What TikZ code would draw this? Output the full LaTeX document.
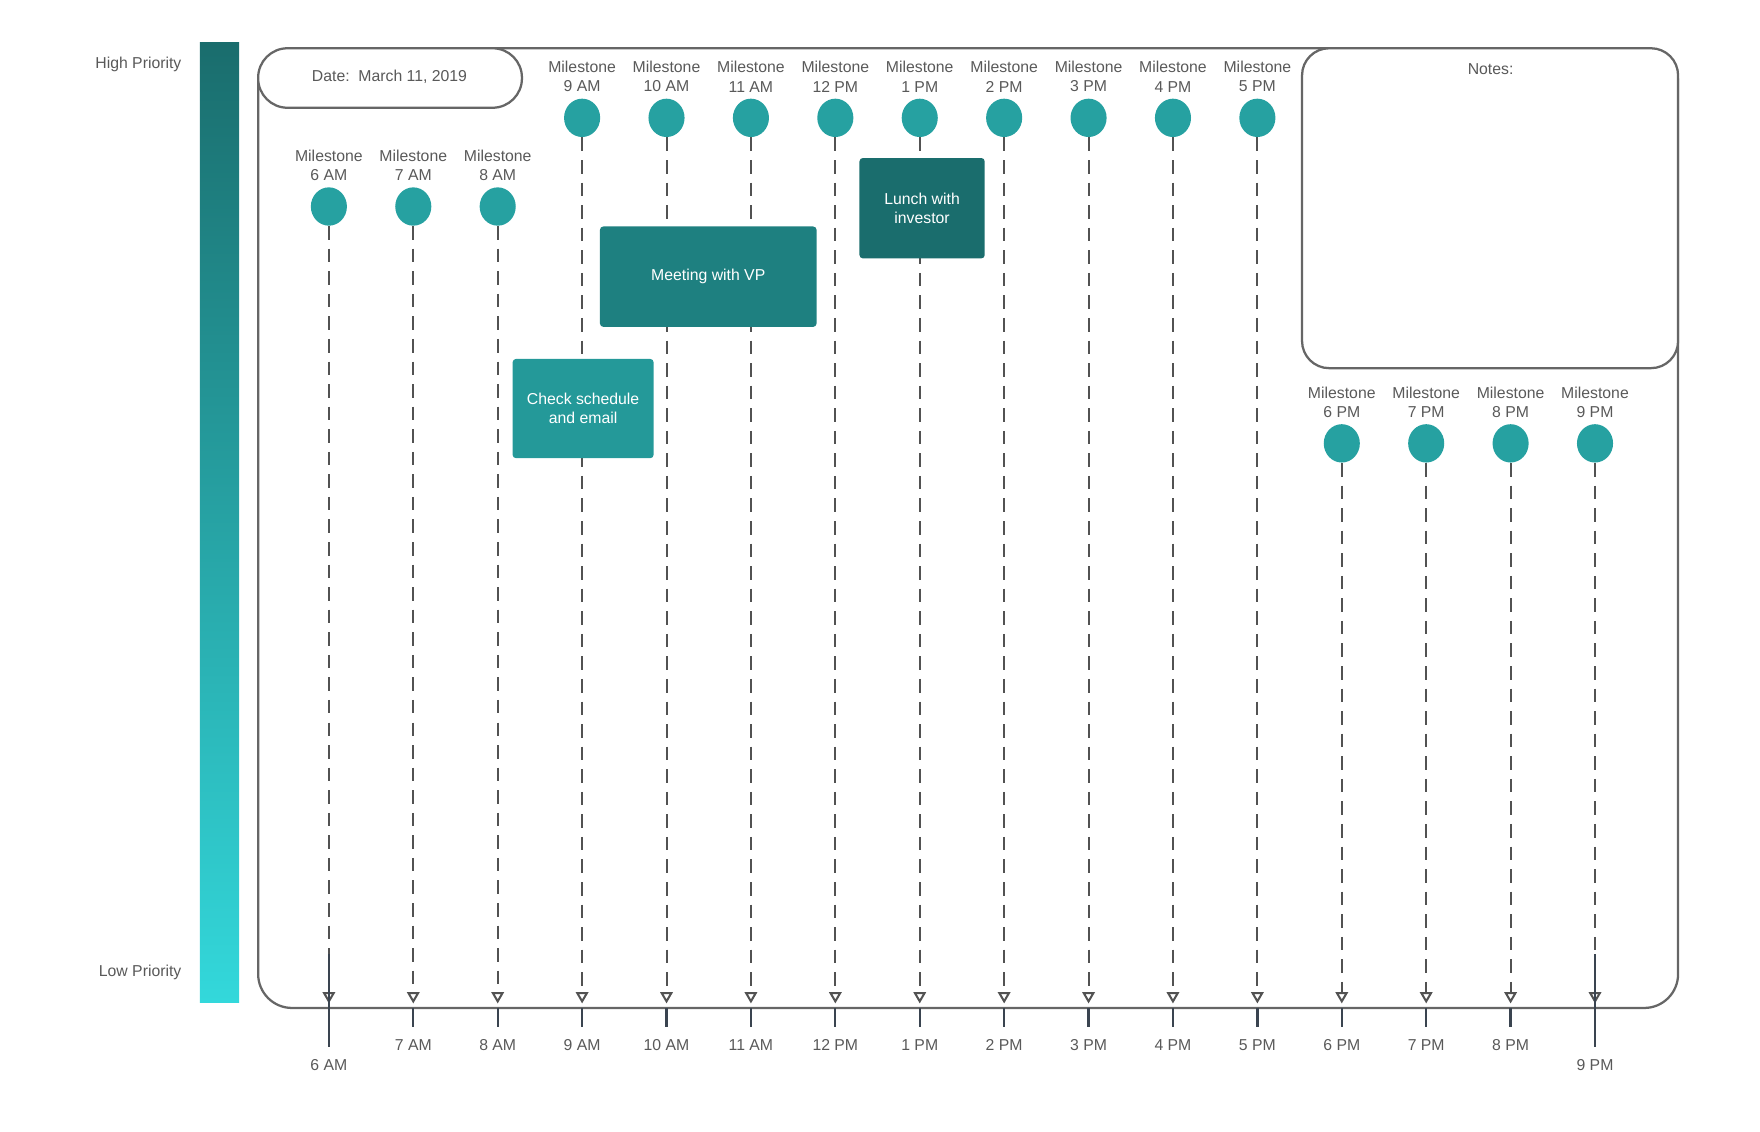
\documentclass[tikz,border=0pt]{standalone}
\usepackage{fontspec}
\setmainfont{Liberation Sans}
\usetikzlibrary{positioning, arrows.meta, shapes.geometric}
\definecolor{teal1}{HTML}{26A1A1}
\definecolor{tealdark}{HTML}{1A6D6D}
\definecolor{tealmid}{HTML}{1E8080}
\definecolor{teallight}{HTML}{33D8DB}
\definecolor{txt}{HTML}{595959}
\definecolor{frame}{HTML}{666666}
\definecolor{tick}{HTML}{3A4450}
\tikzset{
  dot/.style={ellipse, minimum width=16pt, minimum height=17pt, inner sep=0, fill=teal1},
  mlabel/.style={font=\fontsize{7}{8.5}\selectfont, text=txt, align=center, inner sep=0},
  tlabel/.style={font=\fontsize{7}{8.5}\selectfont, text=txt, inner sep=0},
  task/.style={rounded corners=1.5pt, text=white, align=center, font=\fontsize{7}{8.5}\selectfont, inner sep=0},
  guide/.style={draw=frame!80!black, line width=0.9pt, dash pattern=on 6pt off 4pt, -{Triangle[open, length=5pt, width=5.5pt]}},
}
\begin{document}
\begin{tikzpicture}[x=0.4975pt, y=-0.4975pt]
\useasboundingbox (0,0) rectangle (1568,1008);

% priority bar
\shade[top color=tealdark, bottom color=teallight] (178,38) rectangle (213,893);
\node[tlabel, anchor=east] (hi) at (162,57) {High Priority};
\node[tlabel, anchor=east] (lo) at (162,866) {Low Priority};

% frames
\draw[frame, line width=1pt, rounded corners=15pt] (230,43) rectangle (1495,898);
\draw[frame, line width=1pt, fill=white, rounded corners=13pt] (230,43) rectangle (465,96);
\node[tlabel] (date) at (347,68) {Date:\ \ March 11, 2019};
\draw[frame, line width=1pt, fill=white, rounded corners=12pt] (1160,43) rectangle (1495,328);
\node[tlabel] (notes) at (1328,62) {Notes:};

% milestones
\foreach \i/\t/\y in {0/6 AM/184, 1/7 AM/184, 2/8 AM/184,
    3/9 AM/105, 4/10 AM/105, 5/11 AM/105, 6/12 PM/105, 7/1 PM/105, 8/2 PM/105,
    9/3 PM/105, 10/4 PM/105, 11/5 PM/105,
    12/6 PM/395, 13/7 PM/395, 14/8 PM/395, 15/9 PM/395} {
  \pgfmathsetmacro{\cx}{293+75.2*\i}
  \node[dot] (m\i) at (\cx,\y) {};
  \node[mlabel, above=2.5pt of m\i] (l\i) {Milestone\\\t};
  \coordinate (e\i) at (\cx,894);
  \draw[guide] (m\i.south) -- (e\i);
  \ifnum\i=0
    \draw[tick, line width=1pt] (\cx,850) -- (\cx,933);
    \node[tlabel] (t\i) at (\cx,949) {\t};
  \else\ifnum\i=15
    \draw[tick, line width=1pt] (\cx,850) -- (\cx,933);
    \node[tlabel] (t\i) at (\cx,949) {\t};
  \else
    \draw[tick, line width=1pt] (\cx,898) -- (\cx,915);
    \node[tlabel] (t\i) at (\cx,931) {\t};
  \fi\fi
}

% tasks
\node[task, fill=teal1!95!black, minimum width=62.5pt, minimum height=44pt] (check) at (519.5,364) {Check schedule\\and email};
\node[task, fill=tealmid, minimum width=96pt, minimum height=44.5pt] (vp) at (631,246.5) {Meeting with VP};
\node[task, fill=tealdark, minimum width=55.5pt, minimum height=44.5pt] (lunch) at (821.5,185.5) {Lunch with\\investor};
\end{tikzpicture}
\end{document}
